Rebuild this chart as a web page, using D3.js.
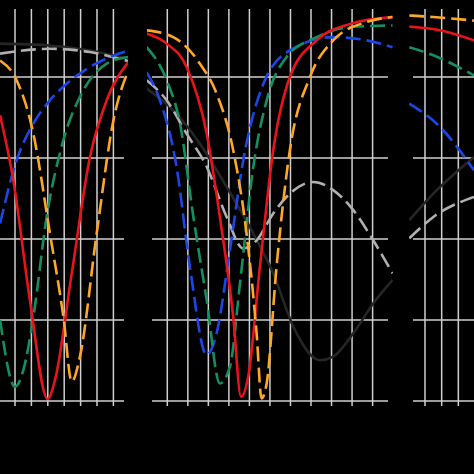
<!DOCTYPE html><html><head><script src="https://cdn.jsdelivr.net/npm/d3@7"></script>
<style>body{margin:0;background:#000}</style></head><body><script>
const yTicks=[0,0.25,0.5,0.75,1];
const p1Ticks=[0,1,2,3,4,5,6], p2Ticks=[0,1,2,3,4,5,6,7,8,9,10], p3Ticks=[0,1,2];
const p1={
black:[[-0.91,1.103],[1.93,1.098],[4.57,1.082],[6.91,1.056]],
gray:[[-0.91,1.072],[2.13,1.087],[4.57,1.077],[6.91,1.049]],
blue:[[-0.91,.548],[0.1,.743],[1.12,.856],[2.13,.928],[3.15,.979],[4.57,1.031],[6.91,1.082]],
green:[[-0.91,.25],[0,.044],[0.51,.096],[1.12,.26],[1.93,.568],[2.95,.805],[4.17,.959],[5.59,1.041],[6.91,1.062]],
red:[[-0.91,.882],[-0.1,.681],[0.91,.311],[1.99,.006],[2.44,.065],[3.46,.394],[4.57,.753],[5.59,.928],[6.91,1.046]],
orange:[[-0.91,1.051],[0.1,.99],[1.12,.825],[2.13,.517],[2.95,.26],[3.46,.06],[3.96,.137],[4.98,.517],[6.0,.866],[6.91,1.021]]};
const p2={
orange:[[-1.01,1.144],[0.29,1.123],[1.59,1.041],[2.4,.949],[3.21,.774],[3.86,.517],[4.35,.209],[4.59,.008],[4.84,.054],[5.32,.414],[5.97,.774],[6.95,1.0],[8.08,1.113],[9.71,1.170],[10.97,1.185]],
red:[[-1.01,1.134],[-0.03,1.103],[0.94,1.031],[1.92,.825],[2.56,.568],[3.21,.26],[3.59,.013],[3.94,.075],[4.51,.414],[5.16,.774],[5.97,1.0],[7.27,1.113],[8.9,1.164],[10.97,1.185]],
green:[[-1.01,1.092],[-0.03,.990],[0.62,.856],[1.27,.568],[1.92,.311],[2.56,.054],[3.05,.106],[3.54,.363],[4.19,.723],[4.84,.928],[5.81,1.062],[7.27,1.123],[8.9,1.154],[10.97,1.159]],
blue:[[-1.01,1.015],[-0.36,.928],[0.45,.723],[1.1,.414],[1.92,.142],[2.4,.209],[3.05,.466],[3.7,.743],[4.68,.979],[5.97,1.082],[8.08,1.123],[9.71,1.113],[10.97,1.092]],
gray:[[-1.01,.990],[-0.03,.928],[0.94,.825],[1.92,.723],[2.89,.568],[3.7,.471],[4.35,.496],[5.16,.579],[5.97,.640],[7.11,.676],[8.08,.651],[9.06,.589],[10.03,.496],[10.97,.394]],
black:[[-1.01,.964],[0.29,.897],[1.59,.794],[2.89,.661],[4.19,.517],[5.16,.394],[6.14,.229],[7.44,.126],[8.08,.137],[9.06,.209],[10.03,.301],[10.97,.373]]};
const p3={
orange:[[-0.94,1.190],[0.5,1.185],[2.94,1.174]],
red:[[-0.94,1.156],[0.9,1.144],[2.94,1.113]],
green:[[-0.94,1.092],[0.5,1.067],[2.94,1.005]],
blue:[[-0.94,.918],[0.9,.846],[2.94,.712]],
black:[[-0.94,.558],[0.5,.640],[2.94,.753]],
gray:[[-0.94,.502],[0.5,.568],[2.94,.630]]};
const style={orange:["#ffa726","15,6"],red:["#e8141c",null],green:["#139060","15,6"],blue:["#1d46e6","15,6"],gray:["#b0b0b0","15,6"],black:["#262626",null]};
const W=474,H=474;
const svg=d3.select("body").append("svg").attr("width",W).attr("height",H).style("background","#000");
const y=d3.scaleLinear().domain([0,1]).range([401,77]);
const panels=[
 {data:p1,ticks:p1Ticks,x:d3.scaleLinear().domain([0,1]).range([15,31.4]),hx:[0,124],clip:[0,128]},
 {data:p2,ticks:p2Ticks,x:d3.scaleLinear().domain([0,1]).range([167.3,187.83]),hx:[152,388],clip:[147,393]},
 {data:p3,ticks:p3Ticks,x:d3.scaleLinear().domain([0,1]).range([425,441.67]),hx:[413,474],clip:[409,474]}];
panels.forEach((p,i)=>{
 const g=svg.append("g");
 g.selectAll(".v").data(p.ticks).join("line").attr("x1",d=>p.x(d)).attr("x2",d=>p.x(d)).attr("y1",9).attr("y2",406).attr("stroke","#d0d0d0").attr("stroke-width",1.5);
 g.selectAll(".h").data(yTicks).join("line").attr("x1",p.hx[0]).attr("x2",p.hx[1]).attr("y1",d=>y(d)).attr("y2",d=>y(d)).attr("stroke","#d0d0d0").attr("stroke-width",1.5);
 svg.append("clipPath").attr("id","c"+i).append("rect").attr("x",p.clip[0]).attr("y",0).attr("width",p.clip[1]-p.clip[0]).attr("height",H);
 const line=d3.line().x(d=>p.x(d[0])).y(d=>y(d[1])).curve(d3.curveMonotoneX);
 const cg=svg.append("g").attr("clip-path",`url(#c${i})`);
 ["black","gray","blue","green","red","orange"].forEach(k=>{
  cg.append("path").attr("d",line(p.data[k])).attr("fill","none").attr("stroke",style[k][0]).attr("stroke-width",2.6).attr("stroke-dasharray",style[k][1]);
 });
});
</script></body></html>
